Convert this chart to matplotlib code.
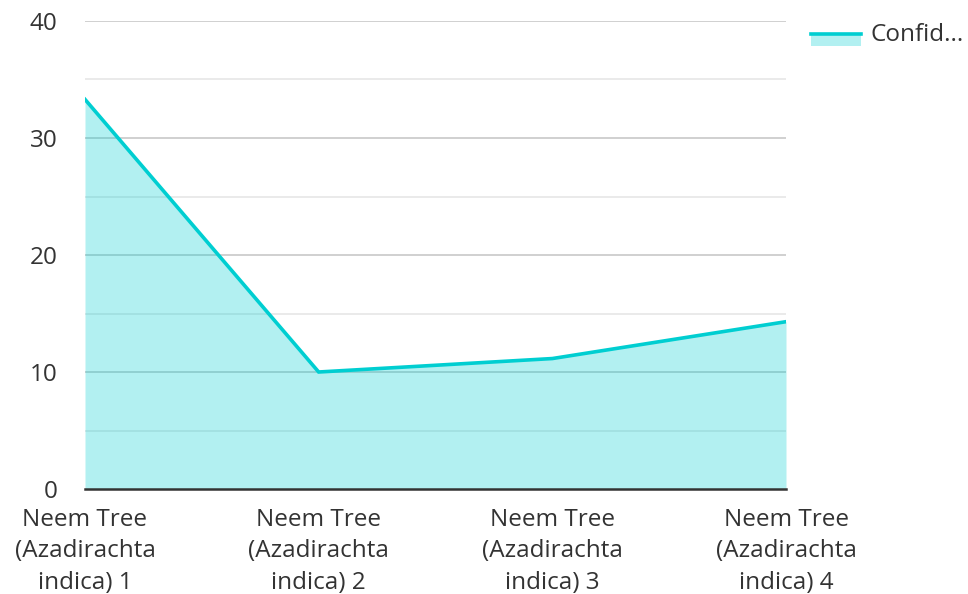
import matplotlib.pyplot as plt
from matplotlib.lines import Line2D
from matplotlib.patches import Rectangle

categories = [
    "Neem Tree\n(Azadirachta\nindica) 1",
    "Neem Tree\n(Azadirachta\nindica) 2",
    "Neem Tree\n(Azadirachta\nindica) 3",
    "Neem Tree\n(Azadirachta\nindica) 4",
]
confidence = [33.3, 10.0, 11.15, 14.3]
series_name = "Confid..."
y_ticks = [0, 10, 20, 30, 40]
y_minor = [5, 15, 25, 35]

line_color = "#00CED1"
text_color = "#333333"
font_size = 17.5

plt.rcParams['font.family'] = ['Open Sans', 'DejaVu Sans']

W, H = 968, 594
fig = plt.figure(figsize=(W / 100, H / 100), dpi=100)
ax = fig.add_axes([85 / W, 1 - 489 / H, (786 - 85) / W, (489 - 21) / H])

x = list(range(len(categories)))

# grid lines first so the translucent fill tints them
for v in y_minor:
    ax.axhline(v, color="#e6e6e6", lw=1.2, zorder=0)
for v in y_ticks[1:]:
    ax.axhline(v, color="#c8c8c8", lw=1.2, zorder=0)

ax.fill_between(x, confidence, 0, color=line_color, alpha=0.3, lw=0, zorder=1)
ax.plot(x, confidence, color=line_color, lw=2.6, zorder=3, solid_joinstyle="miter")

ax.set_xlim(0, len(categories) - 1)
ax.set_ylim(0, 40)
ax.set_yticks(y_ticks)
ax.set_xticks(x)
ax.set_xticklabels(categories, linespacing=1.42)
ax.tick_params(axis="both", length=0, labelsize=font_size, colors=text_color)
ax.tick_params(axis="y", pad=20)
ax.tick_params(axis="x", pad=13.5)

for side in ["top", "right", "left"]:
    ax.spines[side].set_visible(False)
ax.spines["bottom"].set_color("#333333")
ax.spines["bottom"].set_linewidth(1.8)
ax.spines["bottom"].set_zorder(4)

# legend swatch: filled band with the line on top
fig.add_artist(Rectangle((811 / W, 1 - 46 / H), 50 / W, 13 / H,
                         transform=fig.transFigure, facecolor=line_color,
                         alpha=0.3, lw=0))
fig.add_artist(Line2D([811 / W, 861 / W], [1 - 34 / H, 1 - 34 / H],
                      transform=fig.transFigure, color=line_color, lw=2.6))
fig.text(871 / W, 1 - 35 / H, series_name, fontsize=font_size, color=text_color,
         va="center", ha="left")

fig.savefig("out.png", dpi=100, facecolor="white")
